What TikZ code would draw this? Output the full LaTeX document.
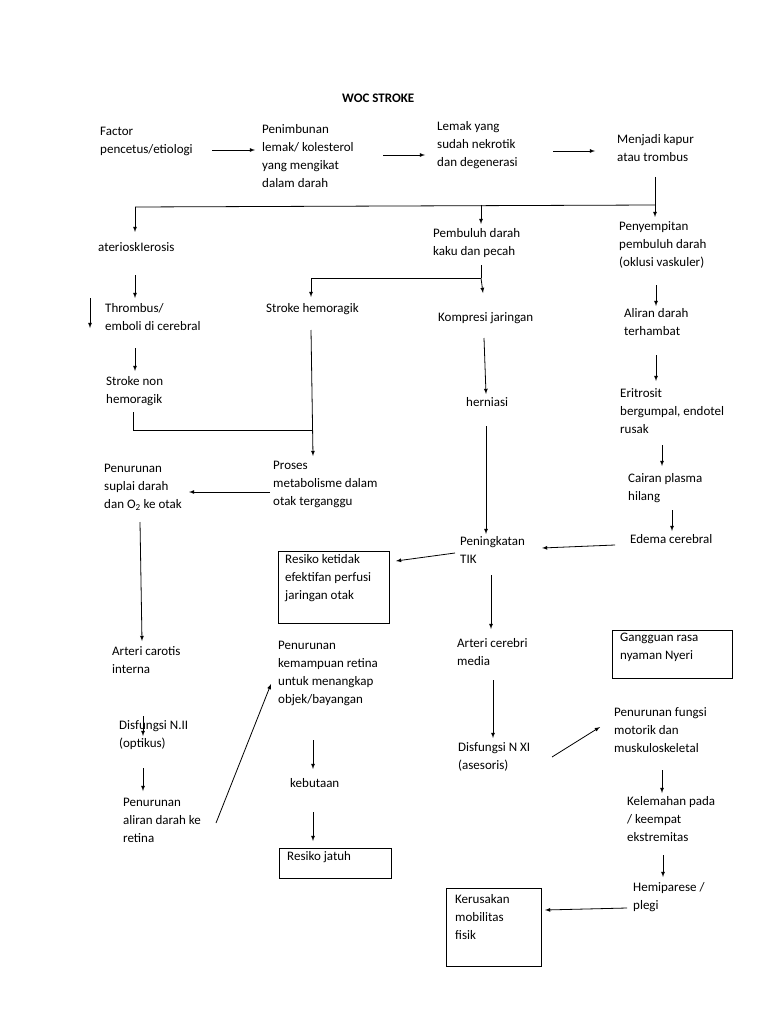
\documentclass[tikz,border=0pt]{standalone}
\usepackage{fontspec}
\setmainfont{Carlito}
\begin{document}
\begin{tikzpicture}[x=1pt,y=-1pt,
 t/.style={anchor=north west,inner sep=0pt,align=left,font=\fontsize{13}{18}\selectfont},
 bx/.style={draw,line width=0.8pt},
 ar/.style={-latex,line width=0.8pt},
 ln/.style={line width=0.8pt}]
\useasboundingbox (0,0) rectangle (768,1024);
\fill[white] (0,0) rectangle (768,1024);
\node[t,font=\bfseries\fontsize{13}{18}\selectfont] (title) at (342,94) {WOC STROKE};
\node[t] (a1) at (100,127) {Factor\\pencetus/etiologi};
\node[t] (a2) at (262,124) {Penimbunan\\lemak/ kolesterol\\yang mengikat\\dalam darah};
\node[t] (a3) at (437,121) {Lemak yang\\sudah nekrotik\\dan degenerasi};
\node[t] (a4) at (617,134) {Menjadi kapur\\atau trombus};
\draw[ar] (212,150)--(255,150);
\draw[ar] (383,155)--(425,155);
\draw[ar] (553,151)--(595,151);
\draw[ln] (655,177)--(655,205);
\draw[ar] (655,205)--(655,217);
\draw[ln] (655,205)--(135,207);
\draw[ar] (135,207)--(135,232);
\draw[ar] (481,205)--(481,224);
\node[t] (b1) at (98,242) {aterioskIerosis};
\node[t] (b2) at (433,228) {Pembuluh darah\\kaku dan pecah};
\node[t] (b3) at (619,221) {Penyempitan\\pembuluh darah\\(oklusi vaskuler)};
\draw[ar] (135,275)--(135,298);
\draw[ar] (90,298)--(90,328);
\node[t] (c1) at (105,303) {Thrombus/\\emboli di cerebral};
\draw[ln] (481,265)--(481,278);
\draw[ln] (481,278)--(311,278);
\draw[ar] (311,278)--(311,297);
\draw[ar] (481,278)--(483,293);
\node[t] (c2) at (266,303) {Stroke hemoragik};
\node[t] (c3) at (438,312) {Kompresi jaringan};
\draw[ar] (656,285)--(656,306);
\node[t] (c4) at (624,308) {Aliran darah\\terhambat};
\draw[ar] (135,348)--(135,371);
\node[t] (d1) at (106,376) {Stroke non\\hemoragik};
\draw[ln] (133,412)--(133,430)--(313,430);
\draw[ar] (311,330)--(313,456);
\draw[ar] (484,338)--(486,394);
\node[t] (d2) at (466,397) {herniasi};
\draw[ar] (656,355)--(656,381);
\node[t] (d3) at (620,388) {Eritrosit\\bergumpal, endotel\\rusak};
\draw[ar] (662,445)--(662,466);
\node[t] (d4) at (628,473) {Cairan plasma\\hilang};
\node[t] (e1) at (104,464) {Penurunan\\suplai darah\\dan O\textsubscript{2} ke otak};
\node[t] (e2) at (273,461) {Proses\\metabolisme dalam\\otak terganggu};
\draw[ar] (270,492)--(189,492);
\draw[ar] (672,510)--(672,531);
\node[t] (e3) at (630,534) {Edema cerebral};
\draw[ar] (615,545)--(542,548);
\node[t] (e4) at (460,536) {Peningkatan\\TIK};
\draw[ar] (486,426)--(486,534);
\draw[bx] (278,551) rectangle (389,623);
\node[t] (f1) at (285,554) {Resiko ketidak\\efektifan perfusi\\jaringan otak};
\draw[ar] (455,553)--(396,561);
\draw[ar] (140,522)--(142,641);
\node[t] (g1) at (112,646) {Arteri carotis\\interna};
\draw[ar] (491,575)--(491,629);
\node[t] (g2) at (457,638) {Arteri cerebri\\media};
\node[t] (g3) at (278,641) {Penurunan\\kemampuan retina\\untuk menangkap\\objek/bayangan};
\draw[bx] (612,630) rectangle (732,678);
\node[t] (g4) at (620,633) {Gangguan rasa\\nyaman Nyeri};
\draw[ar] (143,716)--(143,736);
\node[t] (h1) at (119,720) {Disfungsi N.II\\(optikus)};
\draw[ar] (313,740)--(313,769);
\node[t] (h2) at (290,778) {kebutaan};
\draw[ar] (493,680)--(493,738);
\node[t] (h3) at (458,742) {Disfungsi N XI\\(asesoris)};
\draw[ar] (552,757)--(600,727);
\node[t] (h4) at (614,707) {Penurunan fungsi\\motorik dan\\muskuloskeletal};
\draw[ar] (143,768)--(143,791);
\node[t] (i1) at (123,798) {Penurunan\\aliran darah ke\\retina};
\draw[ar] (216,823)--(271,684);
\draw[ar] (662,770)--(662,793);
\node[t] (i2) at (627,796) {Kelemahan pada\\/ keempat\\ekstremitas};
\draw[ar] (313,812)--(313,841);
\draw[bx] (279,848) rectangle (391,878);
\node[t] (i3) at (287,851) {Resiko jatuh};
\draw[ar] (663,855)--(663,877);
\node[t] (j1) at (633,882) {Hemiparese /\\plegi};
\draw[ar] (627,908)--(545,910);
\draw[bx] (446,888) rectangle (541,966);
\node[t] (j2) at (455,894) {Kerusakan\\mobilitas\\fisik};
\end{tikzpicture}
\end{document}
